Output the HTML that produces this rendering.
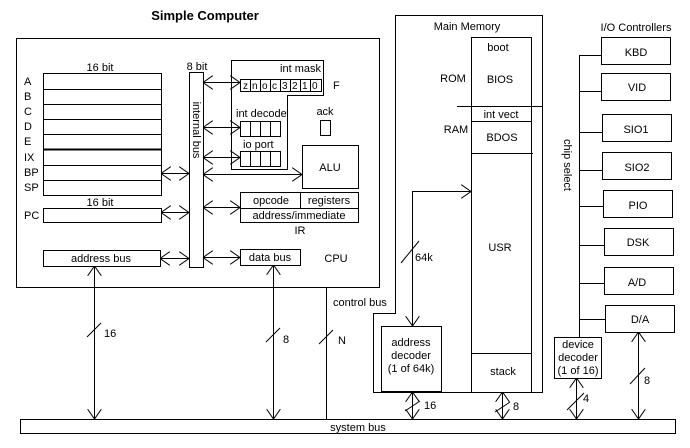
<!DOCTYPE html>
<html><head><meta charset="utf-8"><style>
html,body{margin:0;padding:0;background:#fff;}
svg{display:block;}
text{font-family:"Liberation Sans",sans-serif;font-size:11px;fill:#000;}
</style></head><body>
<svg width="690" height="448" viewBox="0 0 690 448" xmlns="http://www.w3.org/2000/svg">
<defs>
<marker id="a" viewBox="0 0 10 14" refX="10" refY="7" markerWidth="10" markerHeight="14" markerUnits="userSpaceOnUse" orient="auto-start-reverse">
<path d="M0,0 L10,7 L0,14" fill="none" stroke="#000" stroke-width="1"/>
</marker>
</defs>
<g fill="none" stroke="#000" stroke-width="1" shape-rendering="crispEdges">
<rect x="16.5" y="38.5" width="363" height="249"/>
<rect x="43.5" y="73.5" width="118" height="122"/>
<line x1="43" y1="89.5" x2="161" y2="89.5"/>
<line x1="43" y1="104.5" x2="161" y2="104.5"/>
<line x1="43" y1="119.5" x2="161" y2="119.5"/>
<line x1="43" y1="134.5" x2="161" y2="134.5"/>
<line x1="43" y1="149.5" x2="161" y2="149.5" stroke-width="2"/>
<line x1="43" y1="165.5" x2="161" y2="165.5"/>
<line x1="43" y1="180.5" x2="161" y2="180.5"/>
<rect x="43.5" y="208.5" width="118" height="14"/>
<rect x="189.5" y="72.5" width="14" height="195"/>
<rect x="43.5" y="250.5" width="117" height="16"/>
<path d="M231.5,60.5 H323.5 V95.5 H287.5 V169.5 H231.5 Z"/>
<rect x="240.5" y="79.5" width="81" height="12"/>
<line x1="250.5" y1="79" x2="250.5" y2="91"/><line x1="260.5" y1="79" x2="260.5" y2="91"/>
<line x1="270.5" y1="79" x2="270.5" y2="91"/><line x1="280.5" y1="79" x2="280.5" y2="91"/>
<line x1="290.5" y1="79" x2="290.5" y2="91"/><line x1="300.5" y1="79" x2="300.5" y2="91"/>
<line x1="310.5" y1="79" x2="310.5" y2="91"/>
<rect x="240.5" y="121.5" width="40" height="15"/>
<line x1="250.5" y1="121" x2="250.5" y2="136"/><line x1="260.5" y1="121" x2="260.5" y2="136"/><line x1="270.5" y1="121" x2="270.5" y2="136"/>
<rect x="240.5" y="151.5" width="40" height="15"/>
<line x1="250.5" y1="151" x2="250.5" y2="166"/><line x1="260.5" y1="151" x2="260.5" y2="166"/><line x1="270.5" y1="151" x2="270.5" y2="166"/>
<rect x="320.5" y="120.5" width="10" height="15"/>
<rect x="302.5" y="145.5" width="56" height="43"/>
<rect x="240.5" y="192.5" width="118" height="30"/>
<line x1="240" y1="208.5" x2="358" y2="208.5"/>
<line x1="300.5" y1="192" x2="300.5" y2="208"/>
<rect x="240.5" y="249.5" width="60" height="16"/>
<path d="M395.5,313.5 V15.5 H542.5 V392.5 H373.5 V313.5 Z"/>
<rect x="471.5" y="37.5" width="60" height="355"/>
<line x1="457" y1="106.5" x2="542" y2="106.5"/>
<line x1="471" y1="121.5" x2="531" y2="121.5"/>
<line x1="471" y1="153.5" x2="533" y2="153.5"/>
<line x1="471" y1="353.5" x2="531" y2="353.5"/>
<rect x="381.5" y="326.5" width="60" height="65" fill="#fff"/>
<line x1="579.5" y1="55" x2="579.5" y2="337"/>
<rect x="601.5" y="37.5" width="69" height="27"/><line x1="579" y1="55.5" x2="601" y2="55.5"/>
<rect x="601.5" y="73.5" width="69" height="27"/><line x1="579" y1="91.5" x2="601" y2="91.5"/>
<rect x="602.5" y="114.5" width="69" height="27"/><line x1="579" y1="132.5" x2="602" y2="132.5"/>
<rect x="602.5" y="152.5" width="69" height="27"/><line x1="579" y1="170.5" x2="602" y2="170.5"/>
<rect x="603.5" y="190.5" width="69" height="27"/><line x1="579" y1="206.5" x2="603" y2="206.5"/>
<rect x="604.5" y="228.5" width="69" height="27"/><line x1="579" y1="245.5" x2="604" y2="245.5"/>
<rect x="604.5" y="267.5" width="69" height="27"/><line x1="579" y1="283.5" x2="604" y2="283.5"/>
<rect x="605.5" y="305.5" width="69" height="27"/><line x1="579" y1="319.5" x2="605" y2="319.5"/>
<rect x="554.5" y="337.5" width="47" height="41"/>
<rect x="20.5" y="419.5" width="655" height="14"/>
</g>
<g fill="none" stroke="#000" stroke-width="1">
<line x1="161" y1="173.5" x2="189" y2="173.5" marker-start="url(#a)" marker-end="url(#a)"/>
<line x1="161" y1="212.5" x2="189" y2="212.5" marker-start="url(#a)" marker-end="url(#a)"/>
<line x1="160" y1="258.5" x2="189" y2="258.5" marker-start="url(#a)" marker-end="url(#a)"/>
<line x1="203" y1="82.5" x2="240" y2="82.5" marker-start="url(#a)" marker-end="url(#a)"/>
<line x1="203" y1="127.5" x2="240" y2="127.5" marker-start="url(#a)" marker-end="url(#a)"/>
<line x1="203" y1="157.5" x2="240" y2="157.5" marker-start="url(#a)" marker-end="url(#a)"/>
<line x1="203" y1="174.5" x2="302" y2="174.5" marker-start="url(#a)" marker-end="url(#a)"/>
<line x1="203" y1="207.5" x2="240" y2="207.5" marker-start="url(#a)" marker-end="url(#a)"/>
<line x1="203" y1="257.5" x2="240" y2="257.5" marker-start="url(#a)" marker-end="url(#a)"/>
<line x1="94.5" y1="419" x2="94.5" y2="266" marker-start="url(#a)" marker-end="url(#a)"/>
<line x1="273.5" y1="419" x2="273.5" y2="265" marker-start="url(#a)" marker-end="url(#a)"/>
<line x1="326.5" y1="419" x2="326.5" y2="288"/>
<path d="M412.5,326 V191.5 H471" marker-start="url(#a)" marker-end="url(#a)"/>
<line x1="412.5" y1="392" x2="412.5" y2="419" marker-start="url(#a)" marker-end="url(#a)"/>
<line x1="502.5" y1="392" x2="502.5" y2="419" marker-start="url(#a)" marker-end="url(#a)"/>
<line x1="576.5" y1="378" x2="576.5" y2="419" marker-start="url(#a)" marker-end="url(#a)"/>
<line x1="638.5" y1="332" x2="638.5" y2="419" marker-start="url(#a)" marker-end="url(#a)"/>
<line x1="87" y1="337" x2="101" y2="323"/>
<line x1="266" y1="342" x2="280" y2="328"/>
<line x1="319" y1="344" x2="333" y2="330"/>
<line x1="401" y1="263" x2="419" y2="241"/>
<line x1="405" y1="411" x2="420" y2="401"/>
<line x1="495" y1="412" x2="510" y2="402"/>
<line x1="567" y1="410" x2="584" y2="393"/>
<line x1="630" y1="384" x2="645" y2="368"/>
</g>
<text x="205" y="20" text-anchor="middle" style="font-weight:bold;font-size:13px">Simple Computer</text>
<text x="100" y="71" text-anchor="middle">16 bit</text>
<text x="197" y="70" text-anchor="middle">8 bit</text>
<text x="24" y="85">A</text><text x="24" y="100">B</text><text x="24" y="115">C</text>
<text x="24" y="130">D</text><text x="24" y="145">E</text><text x="24" y="161">IX</text>
<text x="24" y="176">BP</text><text x="24" y="191">SP</text>
<text x="100" y="206" text-anchor="middle">16 bit</text>
<text x="24" y="219">PC</text>
<text x="101" y="262" text-anchor="middle">address bus</text>
<text transform="translate(193,130) rotate(90)" text-anchor="middle">internal bus</text>
<text x="321" y="72" text-anchor="end">int mask</text>
<text x="333" y="89">F</text>
<text x="243" y="89" style="font-size:10px">z</text><text x="252" y="89" style="font-size:10px">n</text>
<text x="262" y="89" style="font-size:10px">o</text><text x="272" y="89" style="font-size:10px">c</text>
<text x="282" y="89" style="font-size:10px">3</text><text x="292" y="89" style="font-size:10px">2</text>
<text x="302" y="89" style="font-size:10px">1</text><text x="312" y="89" style="font-size:10px">0</text>
<text x="236" y="117">int decode</text>
<text x="243" y="148">io port</text>
<text x="325" y="115" text-anchor="middle">ack</text>
<text x="330" y="171" text-anchor="middle">ALU</text>
<text x="271" y="204" text-anchor="middle">opcode</text>
<text x="329" y="204" text-anchor="middle">registers</text>
<text x="299" y="219" text-anchor="middle">address/immediate</text>
<text x="300" y="234" text-anchor="middle">IR</text>
<text x="270" y="261" text-anchor="middle">data bus</text>
<text x="336" y="262" text-anchor="middle">CPU</text>
<text x="333" y="306">control bus</text>
<text x="104" y="337">16</text>
<text x="283" y="343">8</text>
<text x="338" y="344">N</text>
<text x="467" y="30" text-anchor="middle">Main Memory</text>
<text x="498" y="51" text-anchor="middle">boot</text>
<text x="500" y="83" text-anchor="middle">BIOS</text>
<text x="453" y="82" text-anchor="middle">ROM</text>
<text x="501" y="118" text-anchor="middle">int vect</text>
<text x="456" y="133" text-anchor="middle">RAM</text>
<text x="502" y="141" text-anchor="middle">BDOS</text>
<text x="500" y="251" text-anchor="middle">USR</text>
<text x="503" y="375" text-anchor="middle">stack</text>
<text x="415" y="261">64k</text>
<text x="411" y="346" text-anchor="middle">address</text>
<text x="411" y="359" text-anchor="middle">decoder</text>
<text x="411" y="372" text-anchor="middle">(1 of 64k)</text>
<text x="424" y="409">16</text>
<text x="513" y="410">8</text>
<text x="358" y="431" text-anchor="middle">system bus</text>
<text x="636" y="31" text-anchor="middle">I/O Controllers</text>
<text x="636" y="56" text-anchor="middle">KBD</text>
<text x="637" y="91" text-anchor="middle">VID</text>
<text x="636" y="133" text-anchor="middle">SIO1</text>
<text x="637" y="171" text-anchor="middle">SIO2</text>
<text x="638" y="209" text-anchor="middle">PIO</text>
<text x="638" y="246" text-anchor="middle">DSK</text>
<text x="637" y="286" text-anchor="middle">A/D</text>
<text x="640" y="323" text-anchor="middle">D/A</text>
<text transform="translate(564,165) rotate(90)" text-anchor="middle">chip select</text>
<text x="578" y="348" text-anchor="middle">device</text>
<text x="578" y="361" text-anchor="middle">decoder</text>
<text x="578" y="374" text-anchor="middle">(1 of 16)</text>
<text x="583" y="402">4</text>
<text x="644" y="384">8</text>
</svg>
</body></html>
